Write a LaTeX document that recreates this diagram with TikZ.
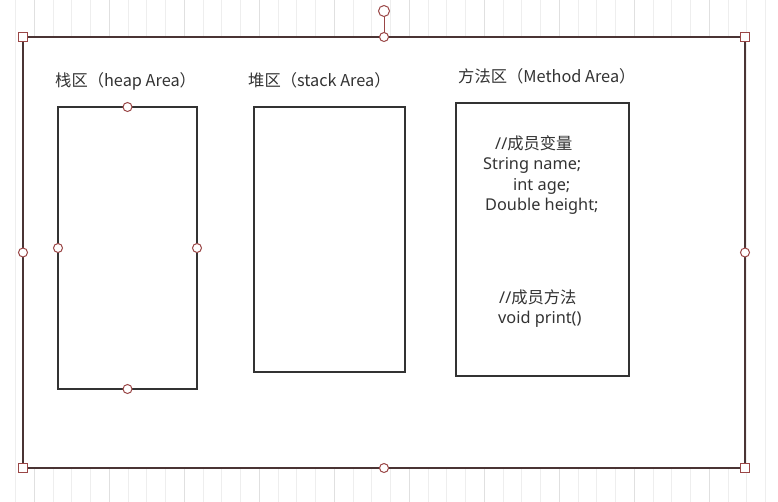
\documentclass[tikz,border=0pt]{standalone}
\usepackage{fontspec}
\setmainfont{Noto Sans}
\newfontfamily\cjk{Noto Sans CJK SC}
\definecolor{gridminor}{HTML}{EEEEEE}
\definecolor{gridmajor}{HTML}{E0E0E0}
\definecolor{handle}{HTML}{9A4646}
\definecolor{frame}{HTML}{4A3434}
\definecolor{boxline}{HTML}{333333}
\definecolor{txt}{HTML}{333333}
\tikzset{
  areabox/.style={draw=boxline, line width=2.2pt, inner sep=0pt, outer sep=0pt, anchor=north west},
  lbl/.style={anchor=base west, inner sep=0pt, text=txt, font=\fontsize{16.3}{18}\selectfont},
  code/.style={anchor=base west, inner sep=0pt, text=txt, font=\fontsize{16.3}{18}\selectfont},
  sqhandle/.style={draw=handle, fill=white, line width=1pt, minimum size=9pt, inner sep=0pt, rectangle},
  cirhandle/.style={draw=handle, fill=white, line width=1pt, minimum size=9pt, inner sep=0pt, circle}
}
\begin{document}
\begin{tikzpicture}[x=1pt,y=-1pt]
\useasboundingbox (0,0) rectangle (778,501);
\fill[white] (0,0) rectangle (778,501);
\begin{scope}
\clip (0,0) rectangle (778,501);
\begin{scope}[shift={(15.55,14)}]
\draw[gridminor, line width=0.9pt, step=18.75] (-18.75,-18.75) grid (780,510);
\end{scope}
\begin{scope}[shift={(34.3,32.75)}]
\draw[gridmajor, line width=0.9pt, step=75] (-75,-75) grid (780,510);
\end{scope}
\end{scope}
% outer frame
\node[draw=frame, fill=white, line width=2.6pt, minimum width=722pt, minimum height=431pt, inner sep=0pt, outer sep=0pt, anchor=north west] (outer) at (23,37) {};
% inner areas
\node[areabox, minimum width=139pt, minimum height=282pt] (heap) at (58,107) {};
\node[areabox, minimum width=151pt, minimum height=265pt] (stack) at (254,107) {};
\node[areabox, minimum width=173pt, minimum height=273pt] (method) at (456,103) {};
% labels
\node[lbl] (lheap) at (55,86.5) {\cjk{栈区（}heap Area\cjk{）}};
\node[lbl] (lstack) at (248,86.5) {\cjk{堆区（}stack Area\cjk{）}};
\node[lbl] (lmethod) at (458,82.5) {\cjk{方法区（}Method Area\cjk{）}};
% method contents
\node[code] (c1) at (495,149) {//\cjk{成员变量}};
\node[code] (c2) at (483,169) {String name;};
\node[code] (c3) at (513,190) {int age;};
\node[code] (c4) at (485,210) {Double height;};
\node[code] (c5) at (499,303) {//\cjk{成员方法}};
\node[code] (c6) at (498,323) {void print()};
% selection handles of outer frame
\coordinate (rot) at (384,11);
\draw[handle, line width=1pt] (rot) -- (outer.north);
\node[cirhandle, minimum size=11pt] (hrot) at (rot) {};
\node[sqhandle] (h1) at (outer.north west) {};
\node[sqhandle] (h2) at (outer.north east) {};
\node[sqhandle] (h3) at (outer.south west) {};
\node[sqhandle] (h4) at (outer.south east) {};
\node[cirhandle] (h5) at (outer.north) {};
\node[cirhandle] (h6) at (outer.south) {};
\node[cirhandle] (h7) at (outer.west) {};
\node[cirhandle] (h8) at (outer.east) {};
% handles of heap box
\node[cirhandle] (k1) at (heap.north) {};
\node[cirhandle] (k2) at (heap.south) {};
\node[cirhandle] (k3) at (heap.west) {};
\node[cirhandle] (k4) at (heap.east) {};
\end{tikzpicture}
\end{document}
